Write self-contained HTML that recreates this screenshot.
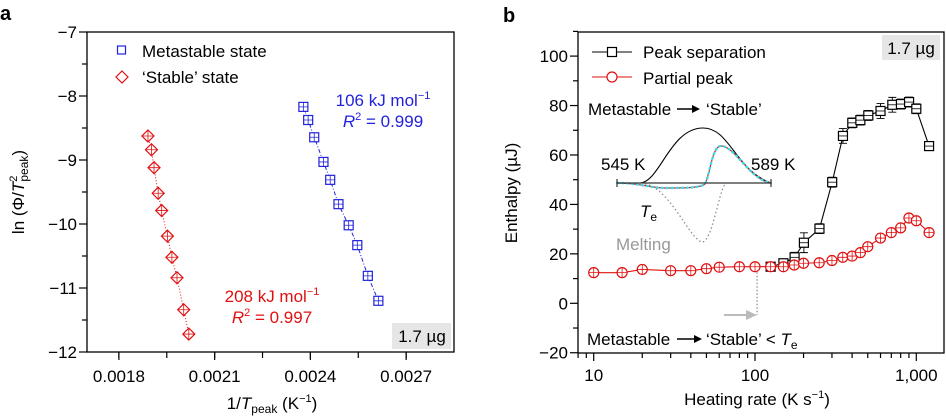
<!DOCTYPE html>
<html><head><meta charset="utf-8"><style>
html,body{margin:0;padding:0;background:#fff;}
svg{display:block;font-family:"Liberation Sans",Arial,sans-serif;}
</style></head><body>
<svg id="fig" width="946" height="418" viewBox="0 0 946 418">
<text x="0" y="20" font-size="20" font-weight="bold">a</text>
<text x="503" y="22" font-size="20" font-weight="bold">b</text>
<g id="pa"></g>
<g id="pb"></g>
</svg>
<script>
// ---- Panel a data ----
const metaX = [0.002378,0.002393,0.002412,0.002441,0.002462,0.002488,0.00252,0.002547,0.00258,0.002613];
const metaY = [-8.17,-8.375,-8.645,-9.03,-9.31,-9.69,-10.02,-10.33,-10.81,-11.2];
const stabX = [0.001891,0.001902,0.00191,0.001923,0.001934,0.001952,0.001966,0.001982,0.002003,0.002019];
const stabY = [-8.625,-8.84,-9.12,-9.52,-9.79,-10.19,-10.52,-10.84,-11.34,-11.72];
const aXTicks = [0.0018,0.0021,0.0024,0.0027];
const aXTickLabels = ["0.0018","0.0021","0.0024","0.0027"];
const aYTicks = [-7,-8,-9,-10,-11,-12];
const aYTickLabels = ["\u22127","\u22128","\u22129","\u221210","\u221211","\u221212"];
// ---- Panel b data ----
const peakRate = [125,150,176,201,251,301,351,401,450,504,600,710,803,902,1000,1200];
const peakVal = [14.8,16.2,18.6,24.5,30.2,49,67.7,73,74.1,76,77.8,80.3,80.6,81.4,78.7,63.6];
const peakErr = [1,1,2,4,2,2,3,2,2,2,3,3,2,2,2,1.5];
const partRate = [10,15,20,30,40,50,60,80,100,125,150,175,200,250,300,350,400,450,500,600,700,800,900,1000,1200];
const partVal = [12.4,12.4,13.7,13.2,13.2,14.0,14.6,14.8,14.8,14.8,14.8,15.5,16.2,16.4,17.3,18.6,19.1,20.5,22.9,26.4,28.6,30.5,34.5,33.4,28.6];
const bYTicks = [-20,0,20,40,60,80,100];
const bYTickLabels = ["\u221220","0","20","40","60","80","100"];
const bXTicks = [10,100,1000];
const bXTickLabels = ["10","100","1,000"];

const FS=17;
const NS="http://www.w3.org/2000/svg";
function mk(parent,tag,attrs,text){const e=document.createElementNS(NS,tag);for(const k in attrs)e.setAttribute(k,attrs[k]);if(text!==undefined)e.textContent=text;parent.appendChild(e);return e;}

// ===== Panel A =====
const pa=document.getElementById('pa');
const aL=87,aR=454,aT=32,aB=352;
const ax=v=>aL+(v-0.0017)/(0.00285-0.0017)*(aR-aL);
const ay=v=>aT+(-7-v)/5*(aB-aT);
let r=mk(pa,'rect',{x:aL,y:aT,width:aR-aL,height:aB-aT,fill:'none',stroke:'#000','stroke-width':1.3});

for(let k=0;k<=7;k++){const v=0.00165+k*0.00015;const x=ax(v);if(x<aL-1||x>aR+1)continue;
 const t=mk(pa,'line',{x1:x,x2:x,y1:aB,y2:aB+6,stroke:'#000','stroke-width':1.2});
 }
aXTicks.forEach((v,i)=>{const x=ax(v);mk(pa,'line',{x1:x,x2:x,y1:aB,y2:aB+8,stroke:'#000','stroke-width':1.2});
 const t=mk(pa,'text',{x:x,y:aB+30,'font-size':FS,'text-anchor':'middle'},aXTickLabels[i]);
 });
for(let k=0;k<=10;k++){const v=-7-k*0.5;const y=ay(v);const big=k%2===0;
 const t=mk(pa,'line',{x1:aL-(big?8:5),x2:aL,y1:y,y2:y,stroke:'#000','stroke-width':1.2});
 }
aYTicks.forEach((v,i)=>{const t=mk(pa,'text',{x:aL-10,y:ay(v)+6,'font-size':FS,'text-anchor':'end'},aYTickLabels[i]);
 });
let tt=mk(pa,'text',{x:272,y:409,'font-size':FS,'text-anchor':'middle'});

tt.innerHTML='1/<tspan font-style="italic">T</tspan><tspan font-size="12" dy="4">peak</tspan><tspan dy="-4"> (K</tspan><tspan font-size="11" dy="-7">\u22121</tspan><tspan dy="7">)</tspan>';
tt=mk(pa,'text',{x:0,y:0,'font-size':FS,'text-anchor':'middle',transform:'translate(24,192) rotate(-90)'});

tt.innerHTML='ln (\u03A6/<tspan font-style="italic">T</tspan><tspan font-size="11" dy="-7">2</tspan><tspan font-size="12" dx="-6" dy="11">peak</tspan><tspan dy="-4">)</tspan>';
let d=metaX.map((v,i)=>(i?'L':'M')+ax(v)+','+ay(metaY[i])).join('');
let p=mk(pa,'path',{d:d,fill:'none',stroke:'#2222dd','stroke-width':1,'stroke-dasharray':'4,2,1,2'});

d=stabX.map((v,i)=>(i?'L':'M')+ax(v)+','+ay(stabY[i])).join('');
p=mk(pa,'path',{d:d,fill:'none',stroke:'#e01010','stroke-width':1,'stroke-dasharray':'1,2'});

metaX.forEach((v,i)=>{const x=ax(v),y=ay(metaY[i]);
 const m=mk(pa,'rect',{x:x-4.5,y:y-4.5,width:9,height:9,fill:'#fff',stroke:'#2222dd','stroke-width':1.2});
 
 mk(pa,'path',{d:`M${x-4.5},${y}H${x+4.5}M${x},${y-4.5}V${y+4.5}`,stroke:'#2222dd','stroke-width':0.8});});
stabX.forEach((v,i)=>{const x=ax(v),y=ay(stabY[i]);
 const m=mk(pa,'path',{d:`M${x},${y-6}L${x+6},${y}L${x},${y+6}L${x-6},${y}Z`,fill:'#fff',stroke:'#e01010','stroke-width':1.2});
 
 mk(pa,'path',{d:`M${x-6},${y}H${x+6}M${x},${y-6}V${y+6}`,stroke:'#e01010','stroke-width':0.8});});
let g=mk(pa,'g',{});
mk(g,'rect',{x:117.5,y:46,width:8,height:8,fill:'none',stroke:'#2222dd','stroke-width':1.2});
mk(g,'text',{x:142,y:57,'font-size':FS},'Metastable state');
mk(g,'path',{d:'M122,71L128,77L122,83L116,77Z',fill:'none',stroke:'#e01010','stroke-width':1.2});
mk(g,'text',{x:142,y:83,'font-size':FS},'\u2018Stable\u2019 state');
tt=mk(pa,'text',{x:383,y:106,'font-size':FS,'text-anchor':'middle',fill:'#2222dd'});

tt.innerHTML='106 kJ mol<tspan font-size="11" dy="-7">\u22121</tspan>';
tt=mk(pa,'text',{x:383,y:127,'font-size':FS,'text-anchor':'middle',fill:'#2222dd'});

tt.innerHTML='<tspan font-style="italic">R</tspan><tspan font-size="11" dy="-7">2</tspan><tspan dy="7"> = 0.999</tspan>';
tt=mk(pa,'text',{x:272,y:302,'font-size':FS,'text-anchor':'middle',fill:'#e01010'});

tt.innerHTML='208 kJ mol<tspan font-size="11" dy="-7">\u22121</tspan>';
tt=mk(pa,'text',{x:272,y:323,'font-size':FS,'text-anchor':'middle',fill:'#e01010'});

tt.innerHTML='<tspan font-style="italic">R</tspan><tspan font-size="11" dy="-7">2</tspan><tspan dy="7"> = 0.997</tspan>';
g=mk(pa,'g',{});
mk(g,'rect',{x:392,y:323,width:59,height:26,fill:'#e6e6e6'});
mk(g,'text',{x:422,y:342,'font-size':FS,'text-anchor':'middle'},'1.7 \u00B5g');

// ===== Panel B =====
const pb=document.getElementById('pb');
const bL=578,bR=944,bT=32,bB=353;
const bx=v=>593.7+(Math.log10(v)-1)*161.3;
const by=v=>303.3-v*2.472;
r=mk(pb,'rect',{x:bL,y:bT,width:bR-bL,height:bB-bT,fill:'none',stroke:'#000','stroke-width':1.3});

for(let dec=1;dec<=1000;dec*=10)for(let k=1;k<10;k++){const v=dec*k;const x=bx(v);if(x<bL-0.5||x>bR)continue;
 const t=mk(pb,'line',{x1:x,x2:x,y1:bB,y2:bB+(k===1?8:5),stroke:'#000','stroke-width':1.2});
 }
bXTicks.forEach((v,i)=>{const t=mk(pb,'text',{x:bx(v),y:bB+28,'font-size':FS,'text-anchor':'middle'},bXTickLabels[i]);
 });
for(let k=0;k<=13;k++){const v=-20+k*10;const y=by(v);const big=k%2===0;
 const t=mk(pb,'line',{x1:bL-(big?8:5),x2:bL,y1:y,y2:y,stroke:'#000','stroke-width':1.2});
 }
bYTicks.forEach((v,i)=>{const t=mk(pb,'text',{x:bL-10,y:by(v)+6,'font-size':FS,'text-anchor':'end'},bYTickLabels[i]);
 });
tt=mk(pb,'text',{x:757,y:405,'font-size':FS,'text-anchor':'middle'});

tt.innerHTML='Heating rate (K s<tspan font-size="11" dy="-7">\u22121</tspan><tspan dy="7">)</tspan>';
tt=mk(pb,'text',{x:0,y:0,'font-size':FS,'text-anchor':'middle',transform:'translate(517,193) rotate(-90)'},'Enthalpy (\u00B5J)');

// inset
g=mk(pb,'g',{});
mk(g,'text',{x:588,y:115,'font-size':FS},'Metastable');
mk(g,'path',{d:'M677,109H694',stroke:'#000','stroke-width':1.5});
mk(g,'path',{d:'M692,105L700,109L692,113Z',fill:'#000'});
mk(g,'text',{x:706,y:115,'font-size':FS},'\u2018Stable\u2019');
mk(g,'text',{x:601,y:170,'font-size':FS},'545 K');
mk(g,'text',{x:751,y:170,'font-size':FS},'589 K');
mk(g,'path',{d:'M645,184C670,188 690,240 702,242C712,242 718,195 725,184',fill:'none',stroke:'#888','stroke-width':1.2,'stroke-dasharray':'1.5,2.5'});
mk(g,'path',{d:'M617,183L640,183C660,182 670,128 703,128C730,128 735,170 771,183',fill:'none',stroke:'#000','stroke-width':1.1});
mk(g,'path',{d:'M617,183C640,183 650,188 665,188C685,188 700,188 705,184C710,175 712,146 721,146C735,146 750,180 771,183',fill:'none',stroke:'#cc2020','stroke-width':1.2});
mk(g,'path',{d:'M617,183C640,183 650,188 665,188C685,188 700,188 705,184C710,175 712,146 721,146C735,146 750,180 771,183',fill:'none',stroke:'#3fd8e8','stroke-width':2.4,'stroke-dasharray':'1,4','stroke-linecap':'round'});
mk(g,'path',{d:'M617,183H771M617,179V187M771,179V187',stroke:'#333','stroke-width':1.2});
tt=mk(g,'text',{x:640,y:217,'font-size':FS});tt.innerHTML='<tspan font-style="italic">T</tspan><tspan font-size="12" dy="4">e</tspan>';
mk(g,'text',{x:616,y:250,'font-size':FS,fill:'#999'},'Melting');
g=mk(pb,'g',{});
mk(g,'path',{d:`M${bx(103)},${by(14)}V315`,stroke:'#888','stroke-width':1.2,'stroke-dasharray':'1.5,2'});
mk(g,'path',{d:'M724,315H748',stroke:'#bbb','stroke-width':2});
mk(g,'path',{d:'M746,310L757,315L746,320Z',fill:'#bbb'});
g=mk(pb,'g',{});
mk(g,'text',{x:587,y:345,'font-size':FS},'Metastable');
mk(g,'path',{d:'M677,339H696',stroke:'#000','stroke-width':1.5});
mk(g,'path',{d:'M694,335L702,339L694,343Z',fill:'#000'});
tt=mk(g,'text',{x:706,y:345,'font-size':FS});
tt.innerHTML='\u2018Stable\u2019 &lt; <tspan font-style="italic">T</tspan><tspan font-size="12" dy="4">e</tspan>';
// series
d=peakRate.map((v,i)=>(i?'L':'M')+bx(v)+','+by(peakVal[i])).join('');
p=mk(pb,'path',{d:d,fill:'none',stroke:'#000','stroke-width':1.1});

peakRate.forEach((v,i)=>{const x=bx(v),y=by(peakVal[i]),e=peakErr[i]*2.472;
 mk(pb,'path',{d:`M${x},${y-e}V${y+e}M${x-4},${y-e}H${x+4}M${x-4},${y+e}H${x+4}`,stroke:'#000','stroke-width':0.9});
 const m=mk(pb,'rect',{x:x-4.5,y:y-4.5,width:9,height:9,fill:'#fff',stroke:'#000','stroke-width':1.2});
 
 mk(pb,'path',{d:`M${x-4.5},${y}H${x+4.5}`,stroke:'#000','stroke-width':0.8});});
d=partRate.map((v,i)=>(i?'L':'M')+bx(v)+','+by(partVal[i])).join('');
p=mk(pb,'path',{d:d,fill:'none',stroke:'#e01010','stroke-width':1.1});

partRate.forEach((v,i)=>{const x=bx(v),y=by(partVal[i]);
 const m=mk(pb,'circle',{cx:x,cy:y,r:5,fill:'#fff',stroke:'#e01010','stroke-width':1.2});
 
 mk(pb,'path',{d:`M${x-5},${y}H${x+5}M${x},${y-5}V${y+5}`,stroke:'#e01010','stroke-width':0.8});});
g=mk(pb,'g',{});
mk(g,'path',{d:'M592,52H632',stroke:'#000','stroke-width':1.1});
mk(g,'rect',{x:607.5,y:47.5,width:9,height:9,fill:'#fff',stroke:'#000','stroke-width':1.2});
mk(g,'text',{x:643,y:58,'font-size':FS},'Peak separation');
mk(g,'path',{d:'M592,77H632',stroke:'#e01010','stroke-width':1.1});
mk(g,'circle',{cx:612,cy:77,r:5,fill:'#fff',stroke:'#e01010','stroke-width':1.2});
mk(g,'text',{x:643,y:84,'font-size':FS},'Partial peak');
g=mk(pb,'g',{});
mk(g,'rect',{x:882,y:35,width:58,height:25,fill:'#e6e6e6'});
mk(g,'text',{x:911,y:54,'font-size':FS,'text-anchor':'middle'},'1.7 \u00B5g');
</script>
</body></html>
